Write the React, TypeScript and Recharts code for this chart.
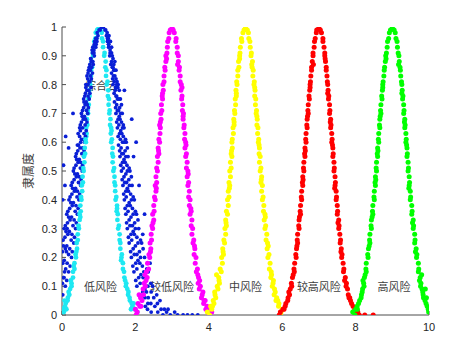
import React from "react";
import { ScatterChart, Scatter, XAxis, YAxis } from "recharts";

// tick values
const xTicks = [0, 2, 4, 6, 8, 10];
const yTicks = [0, 0.1, 0.2, 0.3, 0.4, 0.5, 0.6, 0.7, 0.8, 0.9, 1];

// text labels drawn in the plot
const riskNames = ["低风险", "较低风险", "中风险", "较高风险", "高风险"];
const riskNameX = [0.6, 2.4, 4.55, 6.4, 8.6];
const riskNameY = 0.1;
const cloudName = "综合云";
const cloudNameX = 0.63;
const cloudNameY = 0.8;

// cloud drops [x, membership]
const cyanPts = [
  [1.0, 1.0], [0.96, 0.99], [0.92, 0.98], [0.91, 0.96], [0.88, 0.95], [0.87, 0.93], [0.84, 0.91], [0.85, 0.9],
  [0.81, 0.88], [0.82, 0.86], [0.79, 0.85], [0.79, 0.83], [0.76, 0.81], [0.77, 0.8], [0.74, 0.78], [0.75, 0.76],
  [0.72, 0.75], [0.73, 0.73], [0.7, 0.71], [0.71, 0.7], [0.68, 0.68], [0.69, 0.66], [0.66, 0.65], [0.67, 0.63],
  [0.64, 0.61], [0.65, 0.6], [0.62, 0.58], [0.63, 0.56], [0.6, 0.55], [0.61, 0.53], [0.58, 0.51], [0.59, 0.5],
  [0.56, 0.48], [0.57, 0.46], [0.54, 0.45], [0.55, 0.43], [0.52, 0.41], [0.53, 0.4], [0.5, 0.38], [0.51, 0.36],
  [0.48, 0.35], [0.48, 0.33], [0.45, 0.31], [0.46, 0.3], [0.43, 0.28], [0.43, 0.26], [0.4, 0.25], [0.41, 0.23],
  [0.37, 0.21], [0.38, 0.2], [0.34, 0.18], [0.34, 0.16], [0.3, 0.15], [0.3, 0.13], [0.26, 0.11], [0.26, 0.1],
  [0.22, 0.09], [0.2, 0.07], [0.16, 0.06], [0.15, 0.05], [0.1, 0.04], [0.08, 0.03], [0.03, 0.02], [0.05, 0.01],
  [1.05, 0.99], [1.08, 0.98], [1.09, 0.96], [1.12, 0.95], [1.12, 0.93], [1.16, 0.91], [1.15, 0.9], [1.19, 0.88],
  [1.18, 0.86], [1.21, 0.85], [1.2, 0.83], [1.24, 0.81], [1.22, 0.8], [1.26, 0.78], [1.25, 0.76], [1.28, 0.75],
  [1.27, 0.73], [1.3, 0.71], [1.29, 0.7], [1.32, 0.68], [1.31, 0.66], [1.34, 0.65], [1.33, 0.63], [1.36, 0.61],
  [1.34, 0.6], [1.38, 0.58], [1.37, 0.56], [1.39, 0.55], [1.38, 0.53], [1.42, 0.51], [1.4, 0.5], [1.43, 0.48],
  [1.43, 0.46], [1.45, 0.45], [1.45, 0.43], [1.48, 0.41], [1.46, 0.4], [1.5, 0.38], [1.49, 0.36], [1.52, 0.35],
  [1.51, 0.33], [1.55, 0.31], [1.53, 0.3], [1.57, 0.28], [1.57, 0.26], [1.59, 0.25], [1.59, 0.23], [1.63, 0.21],
  [1.62, 0.2], [1.66, 0.18], [1.66, 0.16], [1.69, 0.15], [1.7, 0.13], [1.75, 0.11], [1.74, 0.1], [1.78, 0.09],
  [1.8, 0.07], [1.84, 0.06], [1.85, 0.05], [1.9, 0.04], [1.92, 0.03], [1.99, 0.02], [2.05, 0.01],
  [0.12, 0.02], [0.18, 0.08], [1.88, 0.02], [1.95, 0.04], [0.66, 0.62], [1.35, 0.64], [0.5, 0.34], [1.5, 0.37],
  [0.24, 0.12], [0.32, 0.17], [0.39, 0.22], [1.61, 0.19], [1.72, 0.12], [1.81, 0.08], [0.07, 0.05], [0.0, 0.02],
];

const bluePts = [
  [1.1, 1.0], [1.07, 1.0], [1.13, 1.0], [1.04, 0.99], [1.01, 0.99], [1.17, 0.99], [1.19, 0.99],
  [0.98, 0.97], [0.96, 0.98], [0.94, 0.96], [1.21, 0.97], [1.23, 0.98], [1.26, 0.96],
  [0.95, 0.95], [0.91, 0.94], [0.89, 0.95], [1.24, 0.95], [1.27, 0.94], [1.3, 0.95],
  [0.92, 0.93], [0.87, 0.92], [0.84, 0.93], [1.27, 0.93], [1.31, 0.92], [1.35, 0.93],
  [0.88, 0.9], [0.83, 0.91], [0.79, 0.89], [1.3, 0.9], [1.35, 0.91], [1.39, 0.89],
  [0.85, 0.87], [0.8, 0.88], [0.74, 0.86], [1.33, 0.87], [1.39, 0.86], [1.44, 0.88],
  [0.83, 0.84], [0.77, 0.85], [0.72, 0.85], [1.35, 0.84], [1.41, 0.85], [1.47, 0.85],
  [0.8, 0.82], [0.74, 0.81], [0.68, 0.83], [1.38, 0.82], [1.44, 0.83], [1.5, 0.81],
  [0.79, 0.79], [0.71, 0.8], [0.65, 0.8], [1.39, 0.8], [1.46, 0.79], [1.53, 0.8],
  [0.76, 0.77], [0.68, 0.78], [0.62, 0.76], [1.42, 0.77], [1.49, 0.76], [1.56, 0.78],
  [0.74, 0.75], [0.66, 0.74], [0.59, 0.75], [1.43, 0.74], [1.51, 0.75], [1.59, 0.75],
  [0.72, 0.72], [0.63, 0.73], [0.56, 0.71], [1.46, 0.72], [1.54, 0.71], [1.62, 0.73],
  [0.7, 0.7], [0.61, 0.69], [0.53, 0.7], [1.47, 0.7], [1.56, 0.69], [1.64, 0.7],
  [0.68, 0.67], [0.58, 0.68], [0.5, 0.66], [1.49, 0.67], [1.58, 0.68], [1.67, 0.66],
  [0.66, 0.64], [0.56, 0.65], [0.48, 0.65], [1.51, 0.65], [1.6, 0.64], [1.69, 0.65],
  [0.64, 0.62], [0.53, 0.61], [0.44, 0.63], [1.53, 0.62], [1.63, 0.63], [1.73, 0.61],
  [0.62, 0.6], [0.51, 0.6], [0.42, 0.59], [1.54, 0.59], [1.65, 0.6], [1.75, 0.6],
  [0.6, 0.57], [0.49, 0.58], [0.39, 0.56], [1.57, 0.57], [1.67, 0.56], [1.78, 0.58],
  [0.59, 0.55], [0.47, 0.54], [0.37, 0.55], [1.58, 0.55], [1.69, 0.54], [1.8, 0.55],
  [0.56, 0.52], [0.44, 0.53], [0.33, 0.51], [1.6, 0.52], [1.72, 0.53], [1.83, 0.51],
  [0.55, 0.5], [0.42, 0.49], [0.31, 0.5], [1.62, 0.5], [1.74, 0.49], [1.85, 0.5],
  [0.52, 0.47], [0.39, 0.48], [0.28, 0.46], [1.64, 0.47], [1.76, 0.46], [1.89, 0.48],
  [0.51, 0.45], [0.37, 0.44], [0.25, 0.45], [1.66, 0.45], [1.78, 0.44], [1.91, 0.45],
  [0.48, 0.42], [0.34, 0.43], [0.22, 0.41], [1.68, 0.42], [1.81, 0.43], [1.94, 0.41],
  [0.46, 0.4], [0.31, 0.39], [0.19, 0.4], [1.7, 0.4], [1.83, 0.39], [1.97, 0.4],
  [0.44, 0.37], [0.28, 0.38], [0.16, 0.36], [1.72, 0.37], [1.86, 0.38], [2.0, 0.36],
  [0.42, 0.35], [0.26, 0.34], [0.13, 0.35], [1.74, 0.35], [1.88, 0.34], [2.03, 0.35],
  [0.39, 0.32], [0.22, 0.33], [0.09, 0.31], [1.76, 0.32], [1.92, 0.31], [2.07, 0.33],
  [0.37, 0.3], [0.2, 0.29], [0.06, 0.3], [1.78, 0.3], [1.94, 0.29], [2.09, 0.3],
  [0.34, 0.27], [0.16, 0.28], [0.03, 0.26], [1.81, 0.27], [1.97, 0.28], [2.14, 0.26],
  [0.32, 0.25], [0.13, 0.24], [1.83, 0.25], [2.0, 0.24], [2.17, 0.25],
  [0.28, 0.22], [0.09, 0.23], [1.87, 0.22], [2.04, 0.21], [2.21, 0.23],
  [0.26, 0.2], [0.06, 0.19], [1.89, 0.2], [2.07, 0.19], [2.25, 0.2],
  [0.22, 0.17], [0.02, 0.18], [1.93, 0.17], [2.12, 0.18], [2.31, 0.16],
  [0.18, 0.15], [1.96, 0.15], [2.15, 0.14], [2.35, 0.15],
  [0.13, 0.12], [2.01, 0.12], [2.21, 0.13], [2.42, 0.11],
  [0.09, 0.1], [2.04, 0.1], [2.26, 0.09], [2.47, 0.1],
  [0.02, 0.07], [2.11, 0.07], [2.35, 0.06], [2.58, 0.07],
  [2.18, 0.05], [2.42, 0.04], [2.67, 0.05],
  [2.27, 0.03], [2.53, 0.03], [2.79, 0.02],
  [2.33, 0.02], [2.61, 0.01], [2.89, 0.02],
  [2.43, 0.01], [2.75, 0.0], [3.07, 0.01],
  [2.95, 0.0], [3.3, 0.0], [3.55, 0.0], [3.15, 0.0],
  [0.04, 0.52], [0.1, 0.62], [0.02, 0.4], [0.07, 0.15], [0.14, 0.3], [0.3, 0.7], [0.05, 0.13],
  [0.12, 0.22], [0.08, 0.45], [0.18, 0.58], [2.2, 0.28], [2.3, 0.08], [1.95, 0.55], [1.7, 0.78],
  [2.4, 0.18], [2.1, 0.45], [2.02, 0.6], [1.9, 0.68], [2.25, 0.35], [0.15, 0.05],
];

// second pass of blue drops, between the first ones
const bluePts2 = [
  [0.95, 0.96], [0.92, 0.96], [1.24, 0.96], [1.28, 0.97], [0.93, 0.94], [0.88, 0.94], [1.27, 0.94], [1.32, 0.95],
  [0.87, 0.91], [0.82, 0.92], [1.31, 0.91], [1.37, 0.9], [0.84, 0.88], [0.78, 0.89], [1.35, 0.88], [1.41, 0.87],
  [0.81, 0.86], [0.76, 0.87], [1.37, 0.86], [1.43, 0.85], [0.78, 0.83], [0.71, 0.84], [1.4, 0.83], [1.47, 0.82],
  [0.76, 0.81], [0.7, 0.82], [1.42, 0.81], [1.49, 0.8], [0.73, 0.78], [0.65, 0.79], [1.45, 0.78], [1.52, 0.79],
  [0.71, 0.76], [0.64, 0.77], [1.47, 0.76], [1.55, 0.75], [0.69, 0.73], [0.6, 0.74], [1.49, 0.73], [1.57, 0.72],
  [0.67, 0.71], [0.59, 0.72], [1.51, 0.71], [1.6, 0.7], [0.64, 0.68], [0.55, 0.69], [1.53, 0.68], [1.62, 0.67],
  [0.63, 0.66], [0.53, 0.67], [1.55, 0.66], [1.65, 0.65], [0.6, 0.63], [0.5, 0.64], [1.57, 0.63], [1.67, 0.62],
  [0.58, 0.61], [0.48, 0.62], [1.59, 0.61], [1.7, 0.6], [0.56, 0.58], [0.45, 0.59], [1.61, 0.58], [1.72, 0.57],
  [0.54, 0.56], [0.43, 0.57], [1.63, 0.56], [1.74, 0.55], [0.51, 0.53], [0.4, 0.54], [1.65, 0.53], [1.77, 0.52],
  [0.5, 0.51], [0.38, 0.52], [1.67, 0.51], [1.78, 0.5], [0.47, 0.48], [0.35, 0.49], [1.69, 0.48], [1.82, 0.47],
  [0.45, 0.46], [0.33, 0.47], [1.71, 0.46], [1.84, 0.45], [0.42, 0.43], [0.29, 0.44], [1.74, 0.43], [1.87, 0.42],
  [0.41, 0.41], [0.27, 0.42], [1.75, 0.41], [1.89, 0.4], [0.38, 0.38], [0.24, 0.39], [1.78, 0.38], [1.92, 0.37],
  [0.36, 0.36], [0.21, 0.37], [1.8, 0.36], [1.94, 0.35], [0.33, 0.33], [0.18, 0.34], [1.83, 0.33], [1.98, 0.32],
  [0.3, 0.31], [0.15, 0.32], [1.85, 0.31], [2.0, 0.3], [0.27, 0.28], [0.11, 0.29], [1.88, 0.28], [2.04, 0.27],
  [0.25, 0.26], [0.08, 0.27], [1.9, 0.26], [2.07, 0.25], [0.21, 0.23], [0.04, 0.24], [1.94, 0.23], [2.11, 0.22],
  [0.18, 0.21], [0.01, 0.22], [1.97, 0.21], [2.14, 0.2], [0.14, 0.18], [2.01, 0.18], [2.19, 0.17],
  [0.1, 0.16], [2.04, 0.16], [2.23, 0.15], [0.05, 0.13], [2.09, 0.13], [2.29, 0.12],
  [0.01, 0.11], [2.13, 0.11], [2.34, 0.1], [2.2, 0.08], [2.43, 0.08], [2.26, 0.06], [2.5, 0.06],
  [2.34, 0.04], [2.6, 0.04], [2.7, 0.02], [2.85, 0.01], [3.42, 0.0], [3.7, 0.0],
];

const magentaPts = [
  [3.0, 1.0], [2.95, 0.99], [2.92, 0.98], [2.91, 0.96], [2.88, 0.95], [2.87, 0.93], [2.86, 0.91], [2.83, 0.9],
  [2.83, 0.88], [2.8, 0.86], [2.81, 0.85], [2.78, 0.83], [2.78, 0.81], [2.75, 0.8], [2.76, 0.78], [2.73, 0.76],
  [2.74, 0.75], [2.71, 0.73], [2.72, 0.71], [2.69, 0.7], [2.7, 0.68], [2.66, 0.66], [2.68, 0.65], [2.67, 0.63],
  [2.64, 0.61], [2.66, 0.6], [2.62, 0.58], [2.64, 0.56], [2.6, 0.55], [2.62, 0.53], [2.58, 0.51], [2.6, 0.5],
  [2.56, 0.48], [2.58, 0.46], [2.54, 0.45], [2.56, 0.43], [2.52, 0.41], [2.54, 0.4], [2.5, 0.38], [2.51, 0.36],
  [2.47, 0.35], [2.5, 0.33], [2.45, 0.31], [2.47, 0.3], [2.43, 0.28], [2.44, 0.26], [2.4, 0.25], [2.42, 0.23],
  [2.37, 0.21], [2.39, 0.2], [2.33, 0.18], [2.36, 0.16], [2.3, 0.15], [2.32, 0.13], [2.24, 0.11], [2.27, 0.1],
  [2.21, 0.09], [2.22, 0.07], [2.14, 0.06], [2.18, 0.05], [2.07, 0.04], [2.12, 0.03], [2.0, 0.02], [2.05, 0.01],
  [3.03, 0.99], [3.06, 0.98], [3.11, 0.96], [3.1, 0.95], [3.14, 0.93], [3.14, 0.91], [3.17, 0.9], [3.17, 0.88],
  [3.2, 0.86], [3.19, 0.85], [3.22, 0.83], [3.22, 0.81], [3.25, 0.8], [3.24, 0.78], [3.27, 0.76], [3.26, 0.75],
  [3.29, 0.73], [3.28, 0.71], [3.31, 0.7], [3.3, 0.68], [3.33, 0.66], [3.32, 0.65], [3.35, 0.63], [3.34, 0.61],
  [3.37, 0.6], [3.35, 0.58], [3.39, 0.56], [3.37, 0.55], [3.41, 0.53], [3.39, 0.51], [3.43, 0.5], [3.41, 0.48],
  [3.45, 0.46], [3.43, 0.45], [3.47, 0.43], [3.45, 0.41], [3.49, 0.4], [3.47, 0.38], [3.52, 0.36], [3.49, 0.35],
  [3.54, 0.33], [3.52, 0.31], [3.56, 0.3], [3.54, 0.28], [3.59, 0.26], [3.57, 0.25], [3.62, 0.23], [3.6, 0.21],
  [3.65, 0.2], [3.63, 0.18], [3.69, 0.16], [3.66, 0.15], [3.72, 0.13], [3.71, 0.11], [3.77, 0.1], [3.74, 0.09],
  [3.82, 0.07], [3.8, 0.06], [3.87, 0.05], [3.86, 0.04], [3.95, 0.03], [3.96, 0.02], [4.08, 0.01], [3.92, 0.02],
  [2.63, 0.57], [3.38, 0.59], [2.57, 0.44], [3.44, 0.49], [2.48, 0.32], [3.51, 0.37], [2.41, 0.22], [3.61, 0.24],
  [2.29, 0.12], [3.7, 0.14], [2.74, 0.77], [3.27, 0.79], [2.85, 0.89], [3.15, 0.87], [2.68, 0.67], [3.3, 0.69],
  [2.15, 0.03], [3.9, 0.05], [2.1, 0.07], [3.84, 0.08], [2.02, 0.0], [4.0, 0.0], [2.26, 0.14], [3.75, 0.12],
];

const yellowPts = [
  [5.0, 1.0], [4.96, 0.99], [4.93, 0.98], [4.89, 0.96], [4.9, 0.95], [4.86, 0.93], [4.85, 0.91], [4.84, 0.9],
  [4.81, 0.88], [4.82, 0.86], [4.79, 0.85], [4.79, 0.83], [4.76, 0.81], [4.77, 0.8], [4.74, 0.78], [4.75, 0.76],
  [4.72, 0.75], [4.73, 0.73], [4.7, 0.71], [4.71, 0.7], [4.68, 0.68], [4.69, 0.66], [4.66, 0.65], [4.67, 0.63],
  [4.64, 0.61], [4.63, 0.6], [4.64, 0.58], [4.61, 0.56], [4.63, 0.55], [4.59, 0.53], [4.61, 0.51], [4.57, 0.5],
  [4.59, 0.48], [4.55, 0.46], [4.57, 0.45], [4.53, 0.43], [4.55, 0.41], [4.51, 0.4], [4.53, 0.38], [4.48, 0.36],
  [4.51, 0.35], [4.46, 0.33], [4.48, 0.31], [4.44, 0.3], [4.46, 0.28], [4.41, 0.26], [4.43, 0.25], [4.38, 0.23],
  [4.4, 0.21], [4.35, 0.2], [4.37, 0.18], [4.31, 0.16], [4.34, 0.15], [4.27, 0.13], [4.29, 0.11], [4.23, 0.1],
  [4.25, 0.09], [4.17, 0.07], [4.19, 0.06], [4.12, 0.05], [4.14, 0.04], [4.05, 0.03], [4.08, 0.02], [3.96, 0.01],
  [5.05, 0.99], [5.08, 0.98], [5.09, 0.96], [5.12, 0.95], [5.13, 0.93], [5.16, 0.91], [5.15, 0.9], [5.19, 0.88],
  [5.18, 0.86], [5.21, 0.85], [5.2, 0.83], [5.24, 0.81], [5.23, 0.8], [5.26, 0.78], [5.25, 0.76], [5.28, 0.75],
  [5.27, 0.73], [5.3, 0.71], [5.29, 0.7], [5.32, 0.68], [5.31, 0.66], [5.34, 0.65], [5.33, 0.63], [5.36, 0.61],
  [5.35, 0.6], [5.38, 0.58], [5.37, 0.56], [5.4, 0.55], [5.38, 0.53], [5.42, 0.51], [5.4, 0.5], [5.44, 0.48],
  [5.42, 0.46], [5.46, 0.45], [5.44, 0.43], [5.48, 0.41], [5.46, 0.4], [5.5, 0.38], [5.49, 0.36], [5.53, 0.35],
  [5.51, 0.33], [5.55, 0.31], [5.53, 0.3], [5.58, 0.28], [5.56, 0.26], [5.6, 0.25], [5.59, 0.23], [5.64, 0.21],
  [5.61, 0.2], [5.67, 0.18], [5.65, 0.16], [5.7, 0.15], [5.69, 0.13], [5.75, 0.11], [5.73, 0.1], [5.79, 0.09],
  [5.78, 0.07], [5.85, 0.06], [5.83, 0.05], [5.91, 0.04], [5.9, 0.03], [6.0, 0.02], [5.97, 0.01],
  [4.62, 0.57], [5.37, 0.59], [4.56, 0.44], [5.43, 0.47], [4.47, 0.32], [5.54, 0.34], [4.39, 0.22], [5.62, 0.24],
  [4.28, 0.12], [5.71, 0.14], [4.75, 0.77], [5.25, 0.79], [4.84, 0.89], [5.17, 0.87], [4.69, 0.67], [5.31, 0.69],
  [4.1, 0.03], [5.88, 0.05], [4.16, 0.08], [5.81, 0.08], [4.02, 0.0], [5.95, 0.0], [4.21, 0.14], [5.76, 0.12],
];

const redPts = [
  [7.0, 1.0], [6.94, 0.99], [6.93, 0.98], [6.9, 0.96], [6.88, 0.95], [6.87, 0.93], [6.84, 0.91], [6.84, 0.9],
  [6.82, 0.88], [6.8, 0.86], [6.8, 0.85], [6.78, 0.83], [6.77, 0.81], [6.76, 0.8], [6.75, 0.78], [6.73, 0.76],
  [6.74, 0.75], [6.71, 0.73], [6.7, 0.71], [6.71, 0.7], [6.68, 0.68], [6.67, 0.66], [6.68, 0.65], [6.65, 0.63],
  [6.64, 0.61], [6.65, 0.6], [6.62, 0.58], [6.61, 0.56], [6.62, 0.55], [6.59, 0.53], [6.58, 0.51], [6.59, 0.5],
  [6.56, 0.48], [6.55, 0.46], [6.56, 0.45], [6.53, 0.43], [6.52, 0.41], [6.53, 0.4], [6.5, 0.38], [6.49, 0.36],
  [6.5, 0.35], [6.46, 0.33], [6.45, 0.31], [6.46, 0.3], [6.42, 0.28], [6.41, 0.26], [6.42, 0.25], [6.39, 0.23],
  [6.37, 0.21], [6.38, 0.2], [6.34, 0.18], [6.32, 0.16], [6.33, 0.15], [6.28, 0.13], [6.25, 0.11], [6.26, 0.1],
  [6.22, 0.09], [6.2, 0.07], [6.16, 0.06], [6.15, 0.05], [6.1, 0.04], [6.08, 0.03], [6.02, 0.02], [5.95, 0.01],
  [7.04, 0.99], [7.07, 0.98], [7.11, 0.96], [7.11, 0.95], [7.14, 0.93], [7.16, 0.91], [7.16, 0.9], [7.18, 0.88],
  [7.2, 0.86], [7.2, 0.85], [7.22, 0.83], [7.23, 0.81], [7.24, 0.8], [7.25, 0.78], [7.27, 0.76], [7.26, 0.75],
  [7.29, 0.73], [7.3, 0.71], [7.29, 0.7], [7.32, 0.68], [7.33, 0.66], [7.32, 0.65], [7.35, 0.63], [7.36, 0.61],
  [7.35, 0.6], [7.38, 0.58], [7.39, 0.56], [7.38, 0.55], [7.41, 0.53], [7.42, 0.51], [7.41, 0.5], [7.44, 0.48],
  [7.45, 0.46], [7.44, 0.45], [7.47, 0.43], [7.48, 0.41], [7.47, 0.4], [7.5, 0.38], [7.51, 0.36], [7.5, 0.35],
  [7.54, 0.33], [7.55, 0.31], [7.54, 0.3], [7.57, 0.28], [7.59, 0.26], [7.58, 0.25], [7.61, 0.23], [7.63, 0.21],
  [7.62, 0.2], [7.66, 0.18], [7.68, 0.16], [7.67, 0.15], [7.72, 0.13], [7.75, 0.11], [7.74, 0.1], [7.78, 0.09],
  [7.8, 0.07], [7.84, 0.06], [7.86, 0.05], [7.89, 0.04], [7.93, 0.03], [7.98, 0.02], [8.06, 0.01],
  [6.63, 0.57], [7.37, 0.59], [6.57, 0.47], [7.43, 0.44], [6.47, 0.34], [7.52, 0.32], [6.4, 0.24], [7.6, 0.22],
  [6.3, 0.14], [7.7, 0.12], [6.76, 0.79], [7.24, 0.77], [6.85, 0.87], [7.17, 0.89], [6.69, 0.69], [7.31, 0.67],
  [6.05, 0.02], [7.95, 0.01], [6.18, 0.08], [7.82, 0.06], [8.1, 0.0], [5.92, 0.0], [8.25, 0.0], [8.48, 0.0],
];

const greenPts = [
  [9.0, 1.0], [8.95, 0.99], [8.92, 0.98], [8.9, 0.96], [8.87, 0.95], [8.86, 0.93], [8.84, 0.91], [8.82, 0.9],
  [8.81, 0.88], [8.79, 0.86], [8.78, 0.85], [8.77, 0.83], [8.75, 0.81], [8.74, 0.8], [8.73, 0.78], [8.71, 0.76],
  [8.72, 0.75], [8.69, 0.73], [8.68, 0.71], [8.69, 0.7], [8.66, 0.68], [8.65, 0.66], [8.66, 0.65], [8.63, 0.63],
  [8.62, 0.61], [8.63, 0.6], [8.6, 0.58], [8.59, 0.56], [8.6, 0.55], [8.57, 0.53], [8.56, 0.51], [8.57, 0.5],
  [8.54, 0.48], [8.53, 0.46], [8.54, 0.45], [8.51, 0.43], [8.5, 0.41], [8.51, 0.4], [8.47, 0.38], [8.46, 0.36],
  [8.47, 0.35], [8.43, 0.33], [8.42, 0.31], [8.43, 0.3], [8.39, 0.28], [8.38, 0.26], [8.39, 0.25], [8.35, 0.23],
  [8.33, 0.21], [8.34, 0.2], [8.29, 0.18], [8.28, 0.16], [8.29, 0.15], [8.24, 0.13], [8.22, 0.11], [8.23, 0.1],
  [8.19, 0.09], [8.16, 0.07], [8.15, 0.06], [8.11, 0.05], [8.08, 0.04], [8.04, 0.03], [8.0, 0.02], [7.92, 0.01],
  [9.05, 0.99], [9.08, 0.98], [9.1, 0.96], [9.13, 0.95], [9.14, 0.93], [9.16, 0.91], [9.18, 0.9], [9.19, 0.88],
  [9.21, 0.86], [9.22, 0.85], [9.23, 0.83], [9.25, 0.81], [9.26, 0.8], [9.27, 0.78], [9.29, 0.76], [9.28, 0.75],
  [9.31, 0.73], [9.32, 0.71], [9.31, 0.7], [9.34, 0.68], [9.35, 0.66], [9.34, 0.65], [9.37, 0.63], [9.38, 0.61],
  [9.37, 0.6], [9.4, 0.58], [9.41, 0.56], [9.4, 0.55], [9.43, 0.53], [9.44, 0.51], [9.43, 0.5], [9.46, 0.48],
  [9.47, 0.46], [9.46, 0.45], [9.49, 0.43], [9.5, 0.41], [9.49, 0.4], [9.53, 0.38], [9.54, 0.36], [9.53, 0.35],
  [9.57, 0.33], [9.58, 0.31], [9.57, 0.3], [9.61, 0.28], [9.62, 0.26], [9.61, 0.25], [9.65, 0.23], [9.67, 0.21],
  [9.66, 0.2], [9.71, 0.18], [9.72, 0.16], [9.71, 0.15], [9.76, 0.13], [9.78, 0.11], [9.77, 0.1], [9.81, 0.09],
  [9.84, 0.07], [9.85, 0.06], [9.89, 0.05], [9.92, 0.04], [9.95, 0.03], [9.98, 0.02], [9.99, 0.01],
  [8.61, 0.57], [9.39, 0.59], [8.55, 0.47], [9.45, 0.44], [8.45, 0.34], [9.55, 0.32], [8.37, 0.24], [9.63, 0.22],
  [8.26, 0.14], [9.74, 0.12], [8.74, 0.79], [9.26, 0.77], [8.83, 0.89], [9.17, 0.87], [8.67, 0.69], [9.33, 0.67],
  [8.05, 0.02], [9.93, 0.06], [8.18, 0.08], [9.83, 0.08], [7.98, 0.0], [9.9, 0.09], [8.2, 0.12], [9.8, 0.14],
];

const toRows = (pts: number[][]) => pts.map(([x, y]) => ({ x, y }));

// upper cyan drops sit under the dense blue cap, lower ones show above the blue
const cyanUpper = cyanPts.filter((p) => p[1] >= 0.62);
const cyanLower = cyanPts.filter((p) => p[1] < 0.62);

const labelRows = [
  { x: cloudNameX, y: cloudNameY, name: cloudName },
  ...riskNames.map((name, i) => ({ x: riskNameX[i], y: riskNameY, name })),
];

const series = [
  { name: "cyanUpper", pts: cyanUpper, color: "#1ee8f2", r: 2.4 },
  { name: "blue", pts: bluePts, color: "#0a1fd6", r: 1.9 },
  { name: "blue2", pts: bluePts2, color: "#0a1fd6", r: 1.9 },
  { name: "cyanLower", pts: cyanLower, color: "#1ee8f2", r: 2.4 },
  { name: "magenta", pts: magentaPts, color: "#ff00ff", r: 2.5 },
  { name: "yellow", pts: yellowPts, color: "#ffff00", r: 2.5 },
  { name: "red", pts: redPts, color: "#ff0000", r: 2.5 },
  { name: "green", pts: greenPts, color: "#00ff00", r: 2.5 },
];

const axisColor = "#4d4d4d";
const tickFont = { fontFamily: "'Liberation Sans', Arial, sans-serif", fontSize: 11, fill: "#262626" };
const cjkFont = "'Noto Sans CJK SC', sans-serif";

const Dot = (color: string, r: number) => (props: any) =>
  <circle cx={props.cx} cy={props.cy} r={r} fill={color} />;

const LabelText = (props: any) => (
  <text
    x={props.cx}
    y={props.cy}
    dominantBaseline="central"
    fontFamily={cjkFont}
    fontSize={11}
    fill="#404040"
  >
    {props.payload.name}
  </text>
);

export default function App() {
  return (
    <div style={{ position: "absolute", left: 0, top: 0, background: "#fff" }}>
      <ScatterChart
        width={474}
        height={355}
        margin={{ top: 27, right: 45, bottom: 10, left: 22 }}
      >
        <XAxis
          type="number"
          dataKey="x"
          domain={[0, 10]}
          ticks={xTicks}
          height={30}
          tickSize={-4}
          tickMargin={12}
          tick={tickFont}
          stroke={axisColor}
          allowDataOverflow
        />
        <YAxis
          type="number"
          dataKey="y"
          domain={[0, 1]}
          ticks={yTicks}
          width={40}
          tickSize={-4}
          tickMargin={9}
          tick={tickFont}
          stroke={axisColor}
          allowDataOverflow
          label={{
            content: (p: any) => {
              const cy = p.viewBox.y + p.viewBox.height / 2;
              return (
                <text
                  x={27}
                  y={cy}
                  transform={`rotate(-90, 27, ${cy})`}
                  textAnchor="middle"
                  dominantBaseline="central"
                  fontFamily={cjkFont}
                  fontSize={12}
                  fill="#404040"
                >
                  隶属度
                </text>
              );
            },
          }}
        />
        <Scatter
          name="labels"
          data={labelRows}
          shape={LabelText}
          isAnimationActive={false}
        />
        {series.map((s) => (
          <Scatter
            key={s.name}
            name={s.name}
            data={toRows(s.pts)}
            fill={s.color}
            shape={Dot(s.color, s.r)}
            isAnimationActive={false}
          />
        ))}
      </ScatterChart>
    </div>
  );
}
